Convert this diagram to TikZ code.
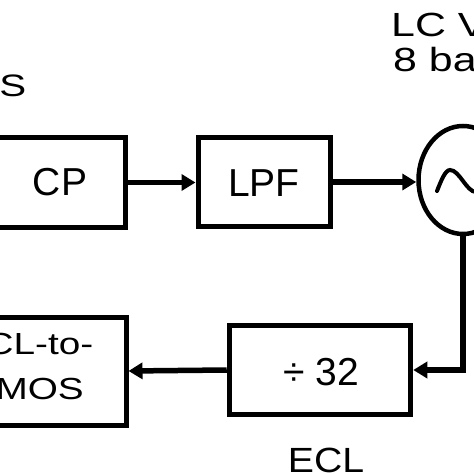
\documentclass[tikz,border=0pt]{standalone}
\usepackage{fontspec}
\setmainfont{Liberation Sans}
\usetikzlibrary{arrows.meta,shapes.geometric}
\tikzset{
  blockbox/.style={draw, line width=5bp, inner sep=0pt, minimum width=#1},
  bigtxt/.style={font=\fontsize{39bp}{44bp}\selectfont, inner sep=0pt},
  lbltxt/.style={font=\fontsize{#1}{#1}\selectfont, inner sep=0pt, text depth=0pt},
  arr/.style={line width=5.5bp, -{Triangle[length=14bp,width=16bp]}},
  wire/.style={line width=5.5bp}
}
\begin{document}
\begin{tikzpicture}[x=1bp,y=-1bp]
\useasboundingbox (0,0) rectangle (474,474);
\clip (0,0) rectangle (474,474);
% boxes
\node[blockbox=130bp, minimum height=90bp] (cp) at (60,182.5) {};
\node[blockbox=132bp, minimum height=89bp] (lpf) at (264,182) {};
\node[draw, ellipse, line width=4.5bp, minimum width=89bp, minimum height=108bp, inner sep=0pt] (vco) at (463,180) {};
\node[blockbox=181.5bp, minimum height=89bp] (div) at (320,370) {};
\node[blockbox=174bp, minimum height=108bp] (conv) at (39,371) {};
% texts
\node[bigtxt, anchor=base] (cpt) at (60,196) {CP};
\node[bigtxt, anchor=base] (lpft) at (264,197) {LPF};
\node[bigtxt, anchor=base] (divt) at (321,385) {÷ 32};
\node[lbltxt=30.5bp, anchor=base east] (convt1) at (93.5,354) {\scalebox{1.27}[1]{ECL-to-}};
\node[lbltxt=30.5bp, anchor=base east] (convt2) at (84,399) {\scalebox{1.27}[1]{CMOS}};
\node[lbltxt=35bp, anchor=base] (ecl) at (326,472) {\scalebox{1.12}[1]{ECL}};
\node[lbltxt=33.5bp, anchor=base west] (lc1) at (391,37) {\scalebox{1.28}[1]{LC VCO}};
\node[lbltxt=33.5bp, anchor=base west] (lc2) at (393,72) {\scalebox{1.28}[1]{8 bands}};
\node[lbltxt=31bp, anchor=base east] (cmos) at (26.5,97) {\scalebox{1.3}[1]{CMOS}};
% tilde
\draw[line width=4bp, line cap=round] (437,191) sin (450,170) cos (463,181) sin (476,192) cos (489,170);
% connectors
\draw[arr] (cp.east) -- (cp.east -| lpf.west);
\draw[arr] (lpf.east) -- (lpf.east -| vco.west);
\coordinate (corner) at (vco.south |- div.east);
\draw[wire] (vco.south) -- (corner);
\draw[arr] ([xshift=2.75bp]corner) -- (div.east);
\draw[arr] (div.west) -- (conv.east);
\end{tikzpicture}
\end{document}
